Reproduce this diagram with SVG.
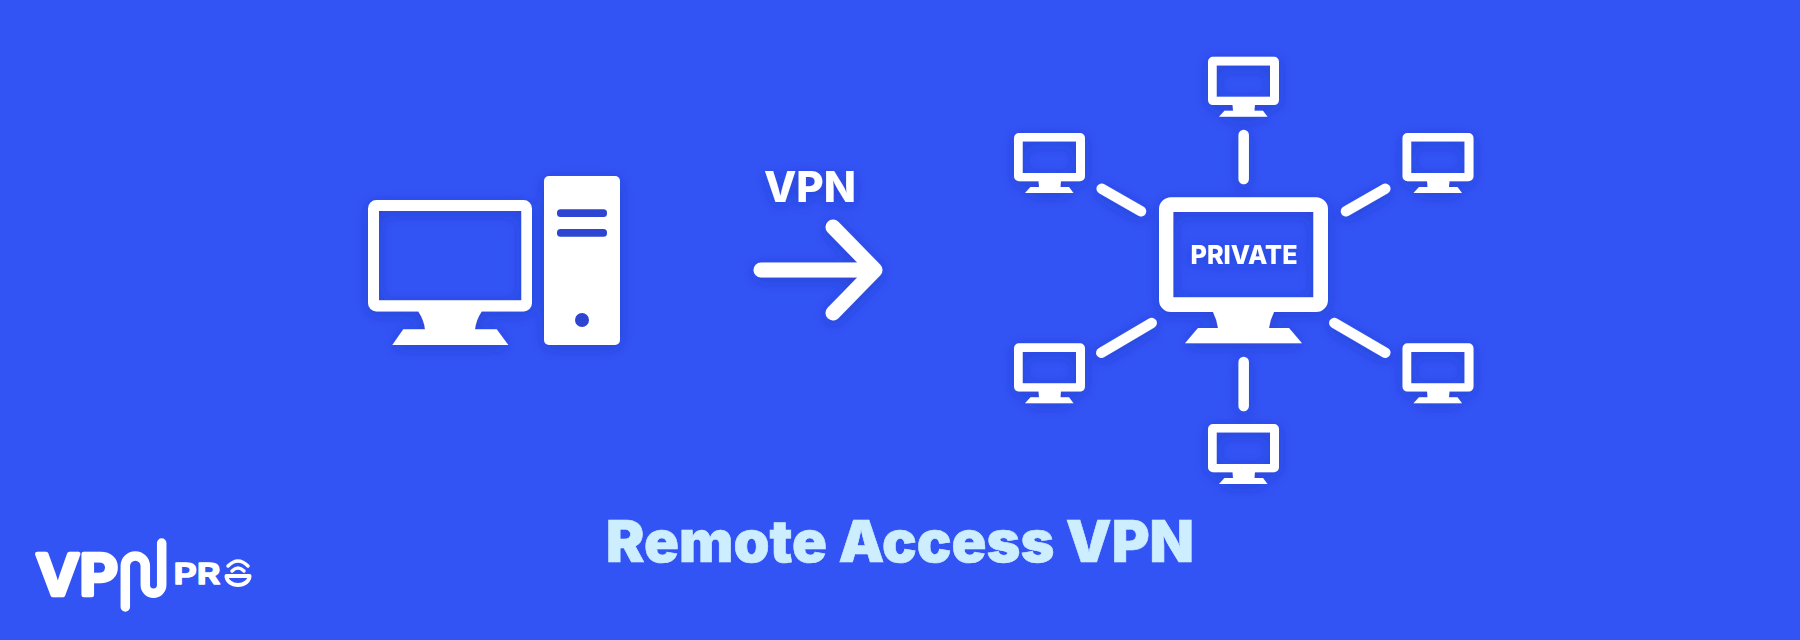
<svg xmlns="http://www.w3.org/2000/svg" width="1800" height="640" viewBox="0 0 1800 640">
<style>
.w{fill:#fff}
.cut{fill:#2f45d2}
.link{fill:none;stroke:#fff;stroke-width:10.5;stroke-linecap:round}
.arrow{fill:none;stroke:#fff;stroke-width:15;stroke-linecap:round;stroke-linejoin:round}
.lbl{font-family:Inter,"Liberation Sans",sans-serif;font-weight:800;fill:#fff;text-anchor:middle}
.logo{font-family:Inter,"Liberation Sans",sans-serif;font-weight:600;fill:#fff;stroke:#fff;stroke-linejoin:round}
.lg{fill:none;stroke:#fff;stroke-linecap:round;stroke-linejoin:round}
</style>
<defs>
<filter id="sh" x="-30%" y="-30%" width="160%" height="160%"><feDropShadow dx="0" dy="3" stdDeviation="7" flood-color="#1c2aa0" flood-opacity="0.38"/></filter>
<path id="mini" class="w" fill-rule="evenodd" d="M5 0H66a5 5 0 0 1 5 5V43.300a5 5 0 0 1-5 5H47Q46.500 51 46.500 54H55L59.500 60H11L16.500 54H25Q25 51 24.500 48.300H5a5 5 0 0 1-5-5V5a5 5 0 0 1 5-5ZM8.700 8.600V40H62V8.600Z"/>
</defs>
<rect width="1800" height="640" fill="#3354f5"/>
<g id="client-pc" filter="url(#sh)">
<path class="w" fill-rule="evenodd" d="M376.500 200H523.500a8.500 8.500 0 0 1 8.500 8.500V303a8.500 8.500 0 0 1-8.500 8.500H481.700Q476 320 475 329.300H496.700L508.300 345H392.300L403.300 329.300H425Q424 320 418.300 311.500H376.500a8.500 8.500 0 0 1-8.500-8.500V208.500a8.500 8.500 0 0 1 8.500-8.500ZM379 211V300.300H521.300V211Z"/>
<rect class="w" x="544" y="176" width="76" height="169" rx="5"/>
<rect class="cut" x="557" y="209.300" width="50" height="7.700" rx="3.500"/>
<rect class="cut" x="557" y="229" width="50" height="7.700" rx="3.500"/>
<circle class="cut" cx="582" cy="320" r="7"/>
</g>
<g id="vpn-arrow" filter="url(#sh)">
<text class="lbl" x="810" y="202" font-size="43" textLength="92" lengthAdjust="spacingAndGlyphs">VPN</text>
<path class="arrow" d="M761 270H874M833 227L875 270L833 313"/>
</g>
<g id="connectors" filter="url(#sh)">
<path class="link" d="M1243.700 135V179"/>
<path class="link" d="M1243.700 362V406"/>
<path class="link" d="M1101.700 188.700L1141 211.300"/>
<path class="link" d="M1385.300 188.700L1346 211.300"/>
<path class="link" d="M1151.700 323L1101.300 352.700"/>
<path class="link" d="M1334.300 323L1385.300 352.700"/>
</g>
<g id="private-server" filter="url(#sh)">
<path class="w" fill-rule="evenodd" d="M1171 197.300H1316a12 12 0 0 1 12 12V300a12 12 0 0 1-12 12H1274Q1270 320 1269 328H1289L1302 343.300H1185L1198 328H1218Q1217 320 1213 312H1171a12 12 0 0 1-12-12V209.300a12 12 0 0 1 12-12ZM1173.300 212V297.300H1313.300V212Z"/>
<text class="lbl" x="1244" y="264" font-size="26" textLength="107" lengthAdjust="spacingAndGlyphs">PRIVATE</text>
</g>
<g id="pc-top" filter="url(#sh)"><use href="#mini" x="1208" y="56.800"/></g>
<g id="pc-upper-left" filter="url(#sh)"><use href="#mini" x="1014" y="133"/></g>
<g id="pc-upper-right" filter="url(#sh)"><use href="#mini" x="1402.500" y="133"/></g>
<g id="pc-lower-left" filter="url(#sh)"><use href="#mini" x="1014" y="343.300"/></g>
<g id="pc-lower-right" filter="url(#sh)"><use href="#mini" x="1402.500" y="343.300"/></g>
<g id="pc-bottom" filter="url(#sh)"><use href="#mini" x="1208" y="424"/></g>
<text id="title" x="900" y="562" text-anchor="middle" font-family="Inter,'Liberation Sans',sans-serif" font-weight="900" font-size="58" fill="#cdeeff" stroke="#cdeeff" stroke-width="0.600" textLength="588" lengthAdjust="spacingAndGlyphs">Remote Access VPN</text>
<g id="logo">
<text class="logo" x="36" y="594.500" font-size="56" stroke-width="4.500" textLength="82" lengthAdjust="spacingAndGlyphs">VP</text>
<path class="lg" stroke-width="9.500" d="M125.300 607V566a10 10 0 0 1 20 0V585a8.200 8.200 0 0 0 16.400 0V543"/>
<text class="logo" x="173.500" y="584" font-size="29" stroke-width="1.500" textLength="47" lengthAdjust="spacingAndGlyphs">PR</text>
<path class="lg" stroke-width="3.500" d="M228 566Q238 556 248 566M232 571Q238 565 244 571"/>
<path class="lg" stroke-width="4" d="M226.500 576H249.500M226.500 576A11.500 9 0 0 0 249.500 576"/>
</g>
</svg>
